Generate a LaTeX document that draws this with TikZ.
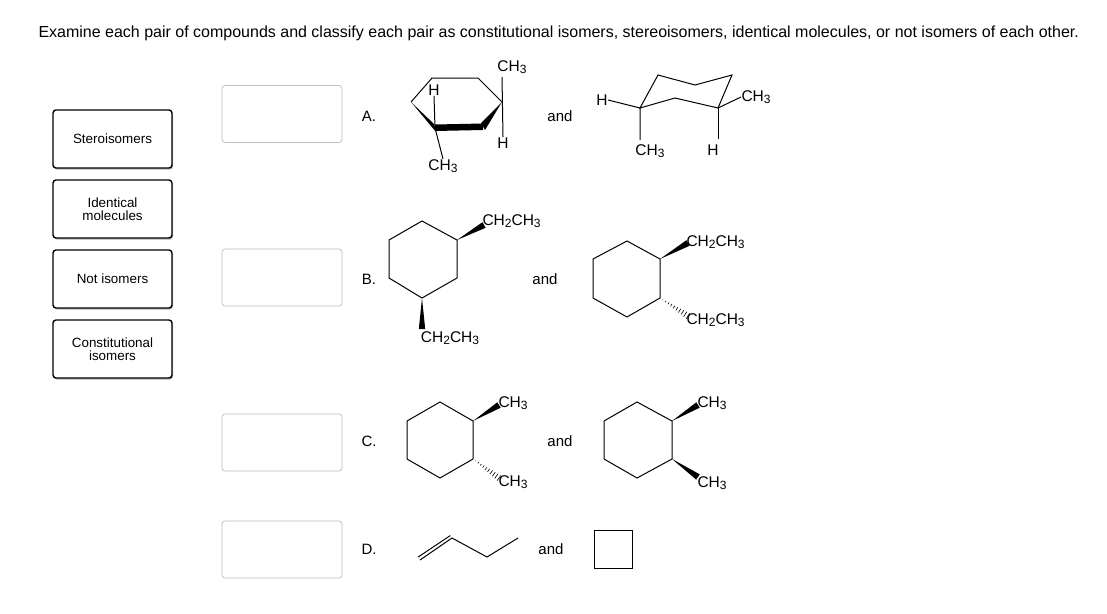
\documentclass[tikz,border=0pt]{standalone}
\usepackage{fontspec}
\setmainfont{Liberation Sans}
\usetikzlibrary{calc,shadows}
\newcommand\wdg[2]{\fill (#1) -- ($(#2)!3.2pt!90:(#1)$) -- ($(#2)!3.2pt!-90:(#1)$) -- cycle;}
\newcommand\hsh[2]{\foreach \t in {0.1,0.2,...,1.0}{\draw[line width=0.6pt] ($(#1)!\t!(#2)!\t*3.2pt!90:(#2)$) -- ($(#1)!\t!(#2)!\t*3.2pt!-90:(#2)$);}}
\newcommand\sub[1]{\raisebox{-0.3ex}{\fontsize{12}{12}\selectfont #1}}
\begin{document}
\begin{tikzpicture}[x=1pt,y=-1pt,line width=1pt,
  ans/.style={draw=black!25,rounded corners=3pt,minimum width=120pt,minimum height=57pt,line width=0.8pt},
  btn/.style={draw,rounded corners=3pt,line width=1.4pt,minimum width=119pt,minimum height=58pt,align=center,font=\fontsize{13.4}{15}\selectfont,fill=white,drop shadow={shadow xshift=1pt,shadow yshift=-1.5pt,opacity=0.6}},
  lab/.style={font=\fontsize{15.5}{16}\selectfont,inner sep=0pt},
  txt/.style={font=\fontsize{15}{16}\selectfont,inner sep=0pt}]
\useasboundingbox (0,0) rectangle (1107,613);
\node[font=\fontsize{16}{18}\selectfont,anchor=west,inner sep=0pt] (title) at (38,33) {Examine each pair of compounds and classify each pair as constitutional isomers, stereoisomers, identical molecules, or not isomers of each other.};
% buttons
\node[btn] (b1) at (112.5,139) {Steroisomers};
\node[btn] (b2) at (112.5,209) {Identical\\[-2pt]molecules};
\node[btn] (b3) at (112.5,279) {Not isomers};
\node[btn] (b4) at (112.5,349) {Constitutional\\[-2pt]isomers};
% answer boxes
\node[ans] (aA) at (282,114) {};
\node[ans] (aB) at (282,277.5) {};
\node[ans] (aC) at (282,442.5) {};
\node[ans] (aD) at (282,549.5) {};
\node[txt] (lA) at (369,116) {A.};
\node[txt] (lB) at (369,279) {B.};
\node[txt] (lC) at (369,441) {C.};
\node[txt] (lD) at (369,549) {D.};
\node[txt] (nA) at (560,116) {and};
\node[txt] (nB) at (545,279) {and};
\node[txt] (nC) at (560,441) {and};
\node[txt] (nD) at (551,549) {and};
% A left
\coordinate (a1) at (411,102); \coordinate (a2) at (432,78); \coordinate (a3) at (478,78);
\coordinate (a4) at (502,102); \coordinate (a5) at (483,127); \coordinate (a6) at (435,128);
\draw (a1) -- (a2) -- (a3) -- (a4);
\fill (a1) -- ($(a6)+(-1,-4)$) -- ($(a6)+(1,4)$) -- cycle;
\fill ($(a6)+(0,-3.5)$) -- ($(a5)+(0,-3.5)$) -- ($(a5)+(0,3)$) -- ($(a6)+(0,3)$) -- cycle;
\fill (a4) -- ($(a5)+(-2,-4)$) -- ($(a5)+(2,3)$) -- cycle;
\node[lab] (hA1) at (434,90) {H};
\node[lab] (mA1) at (443,166) {CH\sub{3}};
\draw (hA1.south) -- (a6) -- (mA1.north);
\node[lab] (mA2) at (512,67) {CH\sub{3}};
\node[lab] (hA2) at (503,143) {H};
\draw (502,77) -- (hA2.north);
% A right chair
\coordinate (c1) at (640,108); \coordinate (c2) at (658,75); \coordinate (c3) at (695,85);
\coordinate (c4) at (732,75); \coordinate (c5) at (718,108); \coordinate (c6) at (675,98);
\draw (c1) -- (c2) -- (c3) -- (c4) -- (c5) -- (c6) -- cycle;
\node[lab] (hA3) at (602,100) {H};
\node[lab] (mA3) at (650,151) {CH\sub{3}};
\node[lab,anchor=west] (mA4) at (741,97) {CH\sub{3}};
\node[lab] (hA4) at (713,150) {H};
\draw (hA3.east) -- (c1) -- (640,140);
\draw (c5) -- (mA4.west);
\draw (c5) -- (718,139);
% B left
\coordinate (d1) at (422,221); \coordinate (d2) at (457,240); \coordinate (d3) at (457,278);
\coordinate (d4) at (422,298); \coordinate (d5) at (389,278); \coordinate (d6) at (389,240);
\draw (d1) -- (d2) -- (d3) -- (d4) -- (d5) -- (d6) -- cycle;
\node[lab,anchor=west] (eB1) at (482,221) {CH\sub{2}CH\sub{3}};
\node[lab] (eB2) at (450,338) {CH\sub{2}CH\sub{3}};
\coordinate (w1) at (484,225); \coordinate (w2) at (422,329);
\wdg{d2}{w1} \wdg{d4}{w2}
% B right
\coordinate (f1) at (627,241); \coordinate (f2) at (660,259); \coordinate (f3) at (660,298);
\coordinate (f4) at (627,317); \coordinate (f5) at (593,298); \coordinate (f6) at (593,259);
\draw (f1) -- (f2) -- (f3) -- (f4) -- (f5) -- (f6) -- cycle;
\node[lab,anchor=west] (eB3) at (686,242) {CH\sub{2}CH\sub{3}};
\node[lab,anchor=west] (eB4) at (686,320) {CH\sub{2}CH\sub{3}};
\coordinate (w3) at (688,243); \coordinate (w4) at (688,316);
\wdg{f2}{w3} \hsh{f3}{w4}
% C left
\coordinate (g1) at (440,402); \coordinate (g2) at (473,421); \coordinate (g3) at (473,459);
\coordinate (g4) at (440,478); \coordinate (g5) at (407,459); \coordinate (g6) at (407,421);
\draw (g1) -- (g2) -- (g3) -- (g4) -- (g5) -- (g6) -- cycle;
\node[lab,anchor=west] (mC1) at (498,403) {CH\sub{3}};
\node[lab,anchor=west] (mC2) at (498,482) {CH\sub{3}};
\coordinate (w5) at (499,405); \coordinate (w6) at (499,478);
\wdg{g2}{w5} \hsh{g3}{w6}
% C right
\coordinate (h1) at (637,402); \coordinate (h2) at (672,421); \coordinate (h3) at (672,459);
\coordinate (h4) at (637,478); \coordinate (h5) at (604,459); \coordinate (h6) at (604,421);
\draw (h1) -- (h2) -- (h3) -- (h4) -- (h5) -- (h6) -- cycle;
\node[lab,anchor=west] (mC3) at (697,403) {CH\sub{3}};
\node[lab,anchor=west] (mC4) at (697,483) {CH\sub{3}};
\coordinate (w7) at (698,405); \coordinate (w8) at (698,477);
\wdg{h2}{w7} \wdg{h3}{w8}
% D
\coordinate (k1) at (420,560); \coordinate (k2) at (452,538); \coordinate (k3) at (487,557); \coordinate (k4) at (518,538);
\draw (k1) -- (k2) -- (k3) -- (k4);
\draw ($(k1)!3.5pt!90:(k2)$) -- ($(k2)!3.5pt!-90:(k1)!0.15!(k2)$);
\draw[line width=1pt] (594,530) rectangle (632,568);
\end{tikzpicture}
\end{document}
